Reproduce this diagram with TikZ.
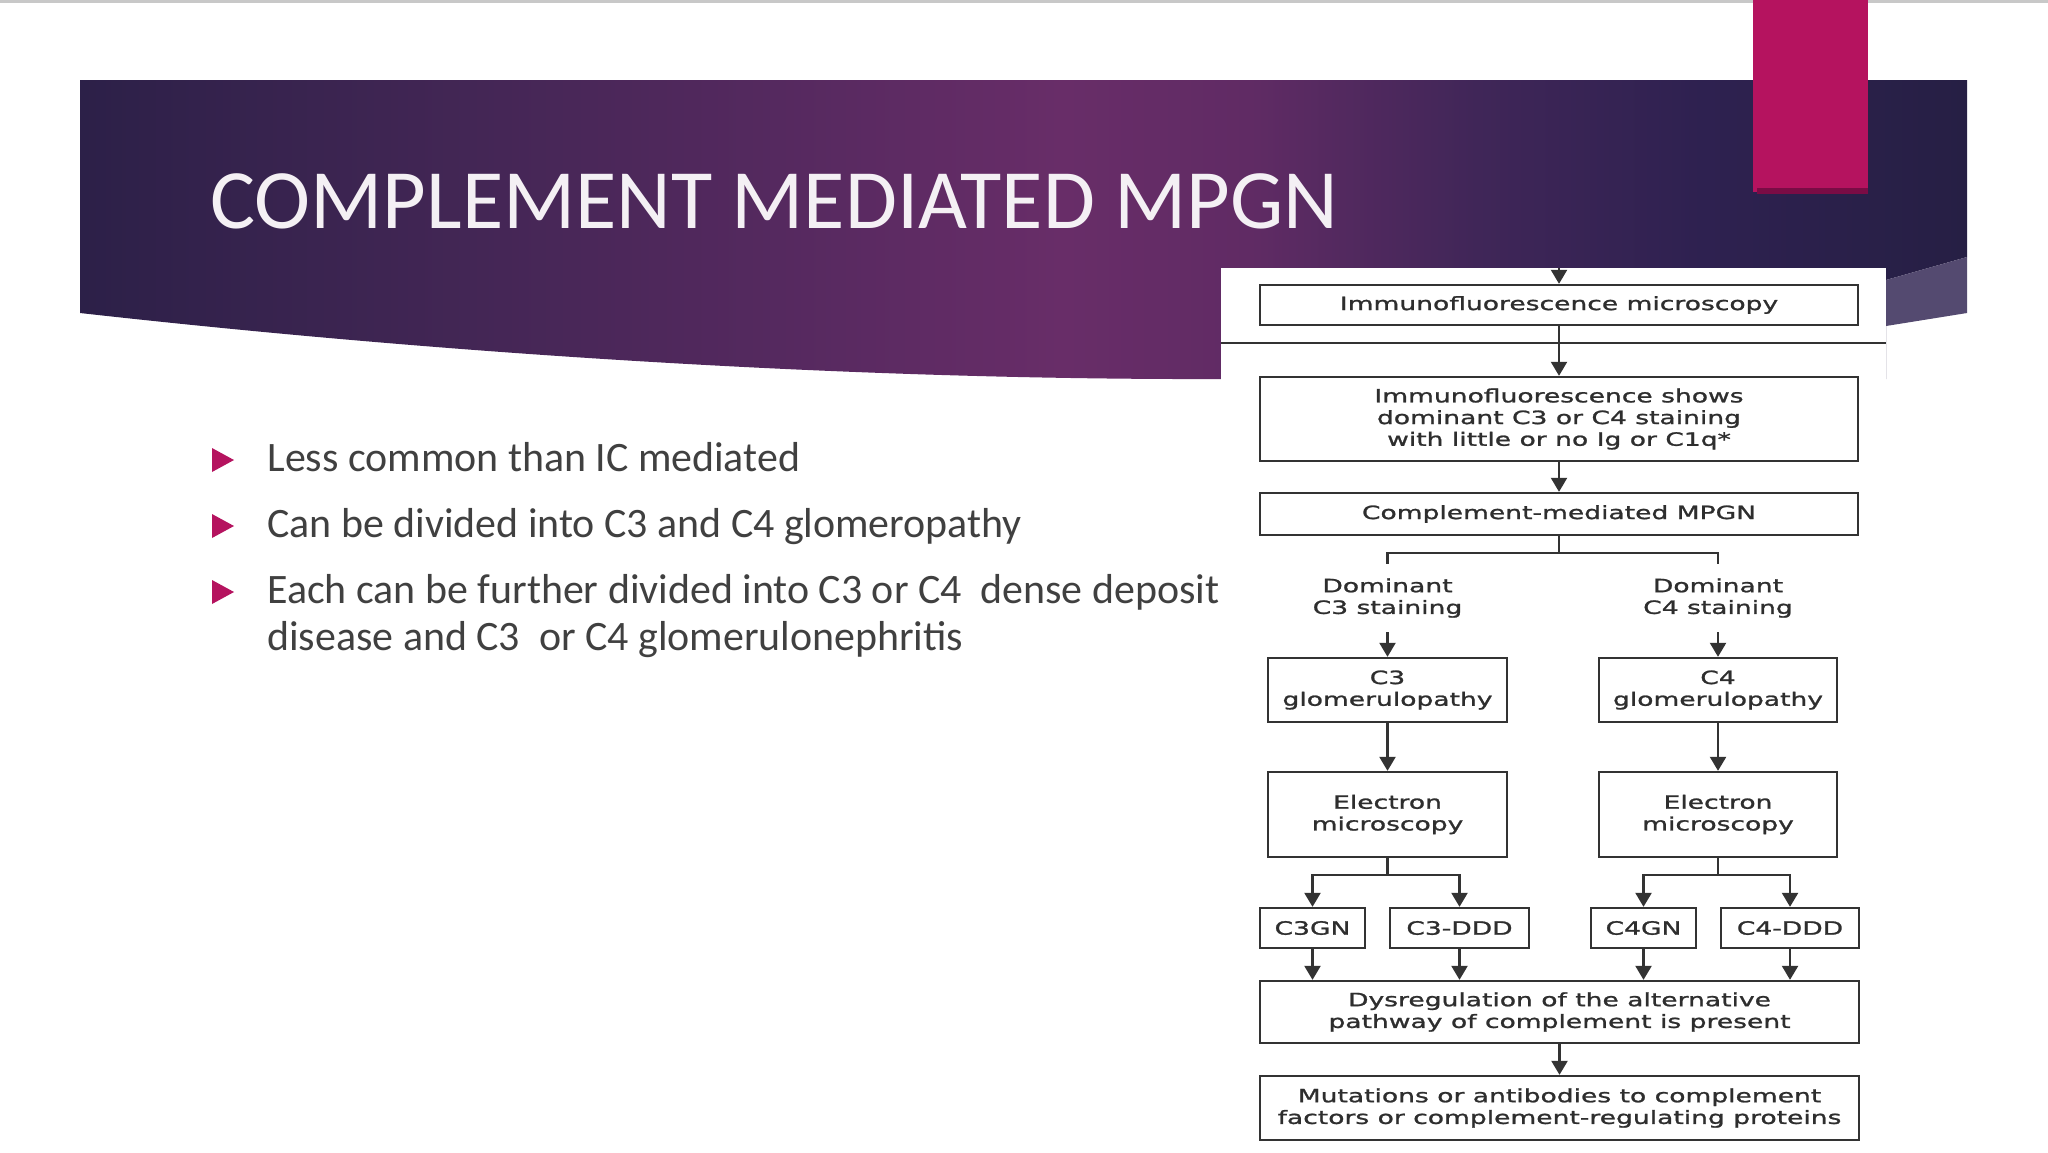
\documentclass[tikz,border=0pt]{standalone}
\usepackage{fontspec}
\setmainfont{Carlito}
\newfontfamily\fcfont[FakeStretch=1.45,FakeBold=1.3]{DejaVu Sans}
\usetikzlibrary{arrows.meta}
\definecolor{accent}{HTML}{B5135F}
\definecolor{accentdark}{HTML}{7A0C45}
\definecolor{wedge}{HTML}{544A70}
\definecolor{bodytext}{HTML}{404040}
\definecolor{titletext}{HTML}{F4F0F4}
\definecolor{fcline}{HTML}{333333}
\definecolor{fctext}{HTML}{2E2E2E}
\definecolor{topline}{HTML}{C8C8C8}
\definecolor{bnA}{RGB}{44,32,72}
\definecolor{bnB}{RGB}{62,37,82}
\definecolor{bnC}{RGB}{85,41,95}
\definecolor{bnD}{RGB}{104,45,104}
\definecolor{bnE}{RGB}{96,43,100}
\definecolor{bnF}{RGB}{64,38,88}
\definecolor{bnG}{RGB}{46,33,80}
\definecolor{bnH}{RGB}{38,31,68}
\pgfdeclarehorizontalshading{bannershade}{100bp}{%
  color(0bp)=(bnA);
  color(25bp)=(bnA);
  color(33bp)=(bnB);
  color(43.5bp)=(bnC);
  color(51bp)=(bnD);
  color(56bp)=(bnE);
  color(62bp)=(bnF);
  color(68bp)=(bnG);
  color(75bp)=(bnH);
  color(100bp)=(bnH)}
\begin{document}
\begin{tikzpicture}[x=0.5pt,y=-0.5pt,
  fcbox/.style={draw=fcline, line width=1.2pt, fill=white, inner sep=0pt, align=center,
    font=\fcfont\fontsize{9.15}{10.85}\selectfont, text=fctext},
  fclbl/.style={inner sep=0pt, align=center,
    font=\fcfont\fontsize{9.15}{10.85}\selectfont, text=fctext},
  arr/.style={draw=fcline, line width=1.2pt, -{Triangle[length=7pt,width=8pt]}},
  ln/.style={draw=fcline, line width=1.2pt},
  bultext/.style={anchor=base west, inner sep=0pt, text=bodytext, align=left,
    font=\fontsize{20.95}{23.5}\selectfont}
]
\useasboundingbox (0,0) rectangle (2048,1152);
\fill[white] (0,0) rectangle (2048,1152);
\draw[topline, line width=1.5pt] (0,1.5) -- (2048,1.5);

% banner
\shade[shading=bannershade]
  (80,80) -- (1967,80) -- (1967,257) -- (1886,280) -- (1886,379) -- (1222,379)
  .. controls (900,380) and (500,360) .. (80,313) -- cycle;
\fill[wedge] (1886,280) -- (1967,257) -- (1967,313) -- (1886,326) -- cycle;
\fill[accent] (1753,0) rectangle (1868,192);
\fill[accentdark] (1757,188) rectangle (1868,194);

% flowchart panel
\fill[white] (1221,268) rectangle (1886,1152);
\draw[fcline, line width=1pt] (1221,343) -- (1886,343);

% title
\node[anchor=base west, inner sep=0pt, text=titletext, font=\fontsize{42.25}{50}\selectfont]
  (title) at (210,228) {COMPLEMENT MEDIATED MPGN};

% bullets
\fill[accent] (212,448) -- (234,460) -- (212,472) -- cycle;
\node[bultext] (t1) at (267,471) {Less common than IC mediated};
\fill[accent] (212,514) -- (234,526) -- (212,538) -- cycle;
\node[bultext] (t2) at (267,537) {Can be divided into C3 and C4 glomeropathy};
\fill[accent] (212,580) -- (234,592) -- (212,604) -- cycle;
\node[bultext] (t3) at (267,650) {Each can be further divided into C3 or C4~ dense deposit\\disease and C3~ or C4 glomerulonephritis};

% flowchart nodes
\node[fcbox, minimum width=299pt, minimum height=20pt] (b1) at (1559,305) {Immunofluorescence microscopy};
\node[fcbox, minimum width=299pt, minimum height=42pt] (b2) at (1559,419) {Immunofluorescence shows\\dominant C3 or C4 staining\\with little or no Ig or C1q*};
\node[fcbox, minimum width=299pt, minimum height=21pt] (b3) at (1559,514) {Complement-mediated MPGN};
\node[fclbl, minimum height=34pt] (d3) at (1387.5,598) {Dominant\\C3 staining};
\node[fclbl, minimum height=34pt] (d4) at (1718,598) {Dominant\\C4 staining};
\node[fcbox, minimum width=119.5pt, minimum height=32pt] (g3) at (1387.5,690) {C3\\glomerulopathy};
\node[fcbox, minimum width=119pt, minimum height=32pt] (g4) at (1718,690) {C4\\glomerulopathy};
\node[fcbox, minimum width=119.5pt, minimum height=42.5pt] (e3) at (1387.5,814.5) {Electron\\microscopy};
\node[fcbox, minimum width=119pt, minimum height=42.5pt] (e4) at (1718,814.5) {Electron\\microscopy};
\node[fcbox, minimum width=52.5pt, minimum height=20pt] (n3) at (1312.5,928) {C3GN};
\node[fcbox, minimum width=69.5pt, minimum height=20pt] (x3) at (1459.5,928) {C3-DDD};
\node[fcbox, minimum width=52.5pt, minimum height=20pt] (n4) at (1643.5,928) {C4GN};
\node[fcbox, minimum width=69pt, minimum height=20pt] (x4) at (1790,928) {C4-DDD};
\node[fcbox, minimum width=299.5pt, minimum height=31pt] (dy) at (1559.5,1012) {Dysregulation of the alternative\\pathway of complement is present};
\node[fcbox, minimum width=299.5pt, minimum height=32pt] (mu) at (1559.5,1108) {Mutations or antibodies to complement\\factors or complement-regulating proteins};

% connectors
\coordinate (top) at (1559,268);
\draw[arr] (top) -- (b1.north);
\draw[arr] (b1) -- (b2);
\draw[arr] (b2) -- (b3);
\coordinate (s1) at (1559,553);
\draw[ln] (b3.south) -- (s1);
\draw[ln] (d3.north) -- (d3.north |- s1) -- (d4.north |- s1) -- (d4.north);
\draw[arr] (d3) -- (g3);
\draw[arr] (d4) -- (g4);
\draw[arr] (g3) -- (e3);
\draw[arr] (g4) -- (e4);
\coordinate (s3) at (1387.5,875);
\coordinate (s4) at (1718,875);
\draw[ln] (e3.south) -- (s3);
\draw[ln] (e4.south) -- (s4);
\draw[arr] (s3) -| (n3.north);
\draw[arr] (s3) -| (x3.north);
\draw[arr] (s4) -| (n4.north);
\draw[arr] (s4) -| (x4.north);
\draw[arr] (n3.south) -- (n3.south |- dy.north);
\draw[arr] (x3.south) -- (x3.south |- dy.north);
\draw[arr] (n4.south) -- (n4.south |- dy.north);
\draw[arr] (x4.south) -- (x4.south |- dy.north);
\draw[arr] (dy) -- (mu);
\end{tikzpicture}
\end{document}
